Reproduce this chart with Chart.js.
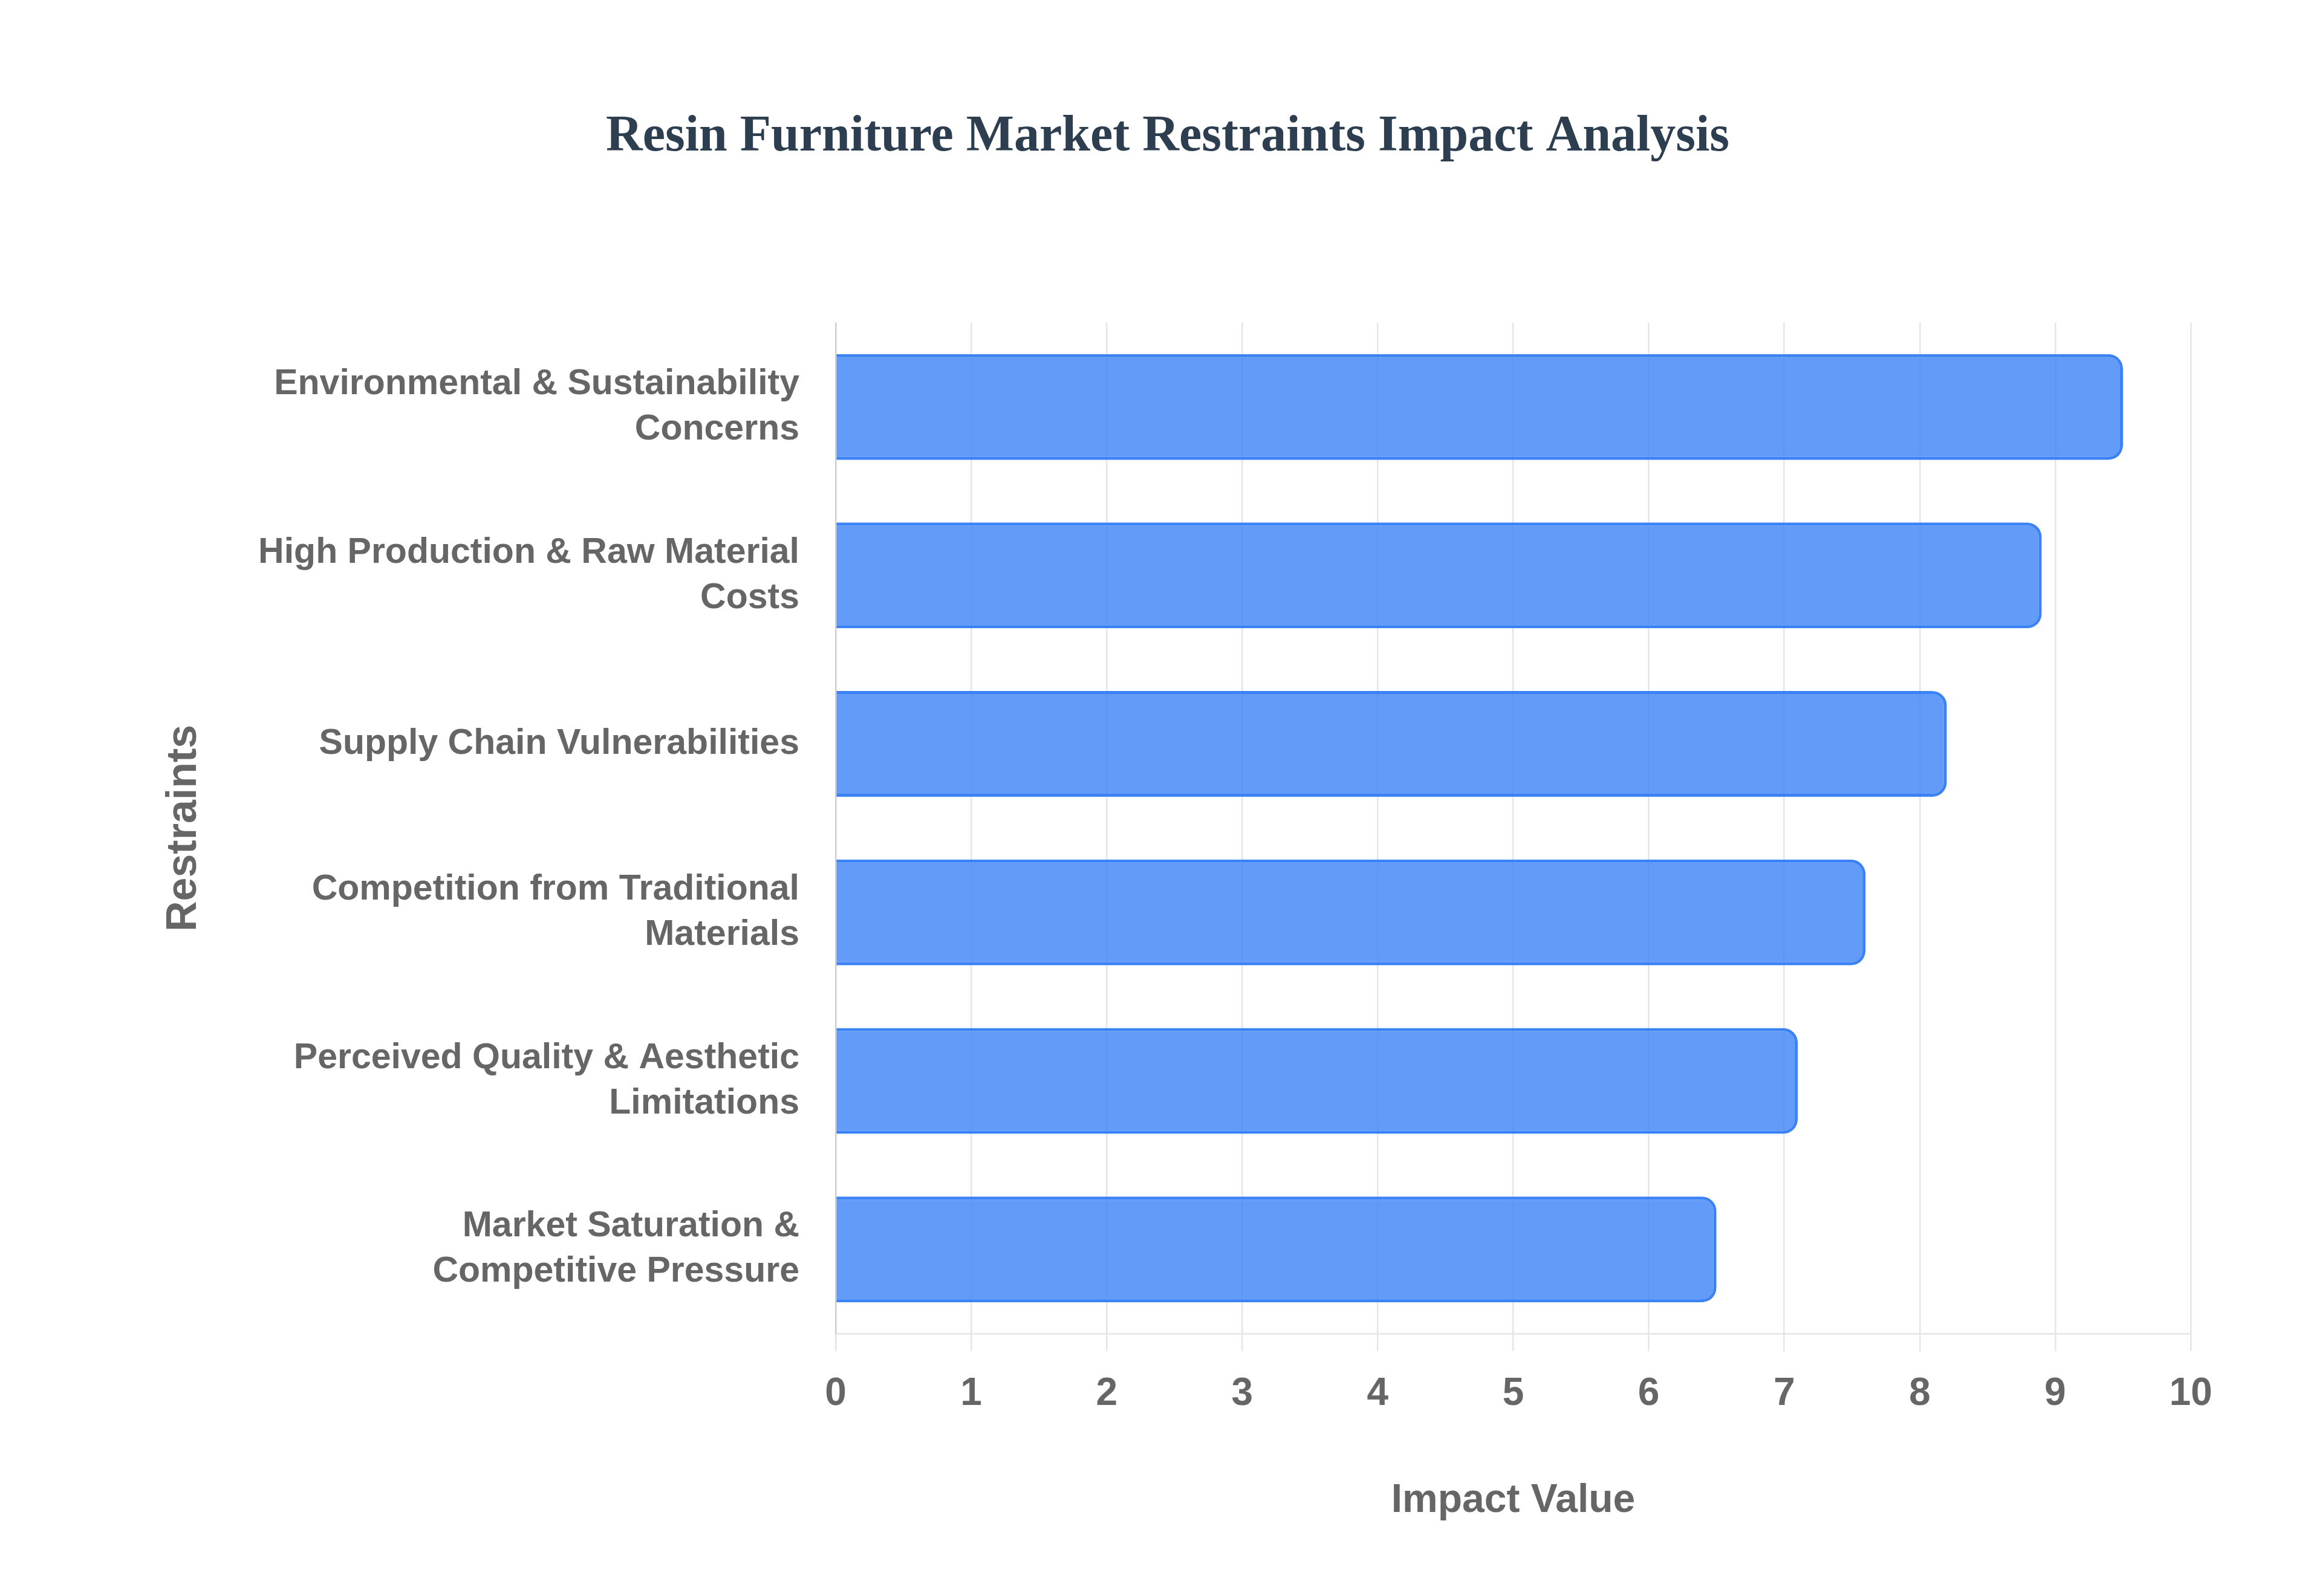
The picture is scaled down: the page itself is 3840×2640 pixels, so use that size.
<!DOCTYPE html>
<html>
<head>
<meta charset="utf-8">
<title>Resin Furniture Market Restraints Impact Analysis</title>
<script src="https://cdn.jsdelivr.net/npm/chart.js@4.4.1/dist/chart.umd.min.js"></script>
<style>
    html, body { margin: 0; padding: 0; background: #ffffff; }
    #wrap { width: 3840px; height: 2640px; position: relative; }
</style>
</head>
<body>
<div id="wrap"><canvas id="restraintsChart"></canvas></div>
<script>
// Restraint categories (each split into the lines shown on the axis)
const restraintLabels = [
    ['Environmental & Sustainability', 'Concerns'],
    ['High Production & Raw Material', 'Costs'],
    ['Supply Chain Vulnerabilities'],
    ['Competition from Traditional', 'Materials'],
    ['Perceived Quality & Aesthetic', 'Limitations'],
    ['Market Saturation &', 'Competitive Pressure']
];

// Impact value for each restraint
const impactValues = [9.5, 8.9, 8.2, 7.6, 7.1, 6.5];

// Value axis range
const impactMin = 0;
const impactMax = 10;
const impactStep = 1;

const sansFont = '"Liberation Sans", Arial, Helvetica, sans-serif';
const serifFont = '"Liberation Serif", "Times New Roman", Times, serif';
const labelGray = '#666666';

document.addEventListener('DOMContentLoaded', () => {
    initRestraintsChart();
});

/**
 * Horizontal bar chart of restraint impact values
 */
function initRestraintsChart() {
    const ctx = document.getElementById('restraintsChart');
    if (!ctx) return;

    new Chart(ctx, {
        type: 'bar',
        data: {
            labels: restraintLabels,
            datasets: [{
                label: 'Impact Value',
                data: impactValues,
                backgroundColor: 'rgba(59, 130, 246, 0.8)',
                borderColor: '#3b82f6',
                borderWidth: 5,
                borderRadius: 24,
                categoryPercentage: 0.8,
                barPercentage: 0.785
            }]
        },
        options: {
            indexAxis: 'y',
            responsive: true,
            maintainAspectRatio: false,
            devicePixelRatio: 1,
            animation: false,
            layout: {
                // equal side padding keeps the title centred on the page
                padding: { top: 0, left: 239, right: 217, bottom: 0 }
            },
            plugins: {
                legend: { display: false },
                tooltip: { enabled: false },
                title: {
                    display: true,
                    text: 'Resin Furniture Market Restraints Impact Analysis',
                    color: '#2c3e50',
                    font: { family: serifFont, size: 84, weight: 'bold', lineHeight: 1.2 },
                    padding: { top: 177, bottom: 256 }
                }
            },
            scales: {
                x: {
                    min: impactMin,
                    max: impactMax,
                    ticks: {
                        stepSize: impactStep,
                        color: labelGray,
                        padding: 33,
                        font: { family: sansFont, size: 64, weight: 'bold' }
                    },
                    grid: {
                        color: 'rgba(0, 0, 0, 0.1)',
                        lineWidth: 2.5,
                        tickLength: 29
                    },
                    border: {
                        color: 'rgba(0, 0, 0, 0.1)',
                        width: 2.5
                    },
                    title: {
                        display: true,
                        text: 'Impact Value',
                        color: labelGray,
                        font: { family: sansFont, size: 66, weight: 'bold', lineHeight: 1.2 },
                        padding: { top: 92, bottom: 118 }
                    },
                    afterFit: (scale) => {
                        scale.height = 2640 - 2206;
                    }
                },
                y: {
                    ticks: {
                        color: labelGray,
                        padding: 60,
                        font: { family: sansFont, size: 59, weight: 'bold', lineHeight: 1.27 }
                    },
                    grid: {
                        display: false,
                        drawTicks: false
                    },
                    border: {
                        color: 'rgba(0, 0, 0, 0.1)',
                        width: 2.5
                    },
                    title: {
                        display: true,
                        text: 'Restraints',
                        color: labelGray,
                        font: { family: sansFont, size: 70, weight: 'bold', lineHeight: 1.2 },
                        padding: { top: 24, bottom: 111 }
                    },
                    afterFit: (scale) => {
                        scale.width = 1382 - 239;
                    }
                }
            }
        }
    });
}
</script>
</body>
</html>
